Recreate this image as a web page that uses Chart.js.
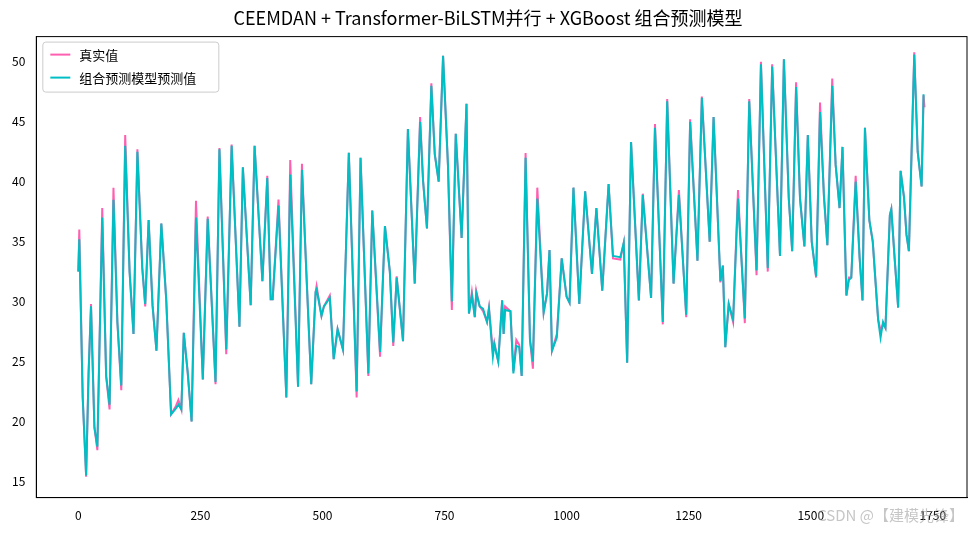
<!DOCTYPE html>
<html><head><meta charset="utf-8">
<script src="https://cdn.jsdelivr.net/npm/chart.js@4"></script>
<style>body{margin:0;background:#fff}#w{position:relative;width:976px;height:533px}
#wm{position:absolute;right:12px;bottom:8px;font:15px "Noto Sans CJK SC";color:rgba(160,160,160,0.6)}</style>
</head><body><div id="w"><canvas id="c" width="976" height="533"></canvas><div id="wm">CSDN @【建模先锋】</div></div>
<script>
const xs=[0,2,9,16,21,26,33,39,49,57,64,72,80,88,96,105,113,121,131,137,144,152,160,170,180,190,200,205,211,216,224,232,241,255,265,281,289,303,314,330,337,353,361,377,387,394,398,410,426,434,450,458,468,477,486,488,498,503,515,523,531,542,554,570,578,594,602,618,628,638,645,652,665,675,689,700,706,714,723,730,738,747,757,765,773,785,795,800,806,812,815,822,829,837,841,849,852,860,868,871,874,885,891,897,903,908,916,925,931,940,953,960,965,970,980,990,1000,1006,1014,1026,1038,1052,1061,1073,1086,1095,1110,1117,1124,1132,1148,1156,1173,1181,1197,1206,1219,1230,1245,1253,1268,1277,1293,1301,1315,1320,1325,1332,1341,1351,1365,1374,1389,1398,1412,1421,1437,1445,1455,1462,1470,1478,1487,1494,1502,1511,1519,1527,1534,1544,1551,1559,1565,1573,1578,1583,1592,1600,1606,1611,1620,1627,1638,1643,1648,1653,1662,1665,1672,1679,1684,1691,1696,1701,1712,1719,1727,1731,1733];
const actual=[32.5,36.0,22.0,15.4,24.0,29.8,19.5,17.6,37.8,23.8,21.0,39.5,28.3,22.6,43.9,32.5,27.3,42.7,32.8,29.6,36.8,29.7,25.9,36.5,30.2,20.6,21.3,21.8,21.0,27.4,24.1,20.0,38.4,23.5,37.1,23.1,42.8,25.6,43.1,27.9,41.2,29.7,43.0,31.7,40.5,30.2,30.2,38.5,22.0,41.8,22.9,41.5,31.5,23.1,30.8,31.3,28.8,29.6,30.5,25.2,27.7,26.0,42.4,22.0,42.0,23.8,37.6,25.4,36.3,32.5,26.3,32.1,26.7,44.4,31.5,45.4,40.1,36.1,48.2,42.3,40.0,50.5,41.4,29.3,44.0,35.3,46.5,29.0,30.8,28.7,30.9,29.6,29.2,28.3,29.5,25.8,26.6,25.0,30.1,27.3,29.6,29.2,24.2,26.8,26.4,23.8,42.4,26.8,24.4,39.5,29.1,30.7,34.3,25.9,27.3,33.6,30.4,29.9,39.5,29.8,39.2,32.3,37.8,30.9,39.8,33.6,33.5,34.9,24.9,43.3,30.1,39.0,30.3,44.8,28.1,46.9,31.5,39.3,28.7,45.2,33.4,47.1,35.0,45.4,31.6,33.0,26.2,29.8,28.3,39.3,28.2,46.9,32.2,50.0,32.5,49.8,33.8,50.2,38.6,34.2,48.3,38.6,34.6,43.9,35.0,32.0,46.6,38.8,34.7,48.6,41.4,37.8,42.9,30.5,32.0,32.0,40.5,33.7,30.1,44.5,36.8,35.0,28.5,27.6,28.1,27.8,37.2,37.7,33.5,29.5,40.9,38.7,35.6,34.2,50.8,42.5,39.6,47.2,46.2];
const predicted=[32.5,35.2,22.0,15.5,24.0,29.6,19.5,17.9,37.0,23.8,21.4,38.5,28.3,23.0,43.0,32.5,27.3,42.5,32.8,29.8,36.8,29.7,25.9,36.5,30.2,20.6,21.1,21.4,21.0,27.4,24.1,20.0,37.0,23.5,36.9,23.3,42.7,26.0,43.0,27.9,41.2,29.7,43.0,31.7,40.3,30.2,30.2,38.0,22.0,40.6,22.9,41.0,31.5,23.1,30.8,31.0,28.8,29.6,30.3,25.2,27.7,26.0,42.4,22.5,42.0,24.0,37.6,25.8,36.3,32.5,26.6,32.0,26.7,44.4,31.5,45.0,40.1,36.1,48.0,42.3,40.0,50.5,41.4,30.0,44.0,35.3,46.5,29.0,30.5,28.7,30.7,29.6,29.4,28.3,29.4,25.4,26.4,25.0,30.1,27.3,29.3,29.2,24.0,26.3,26.2,23.8,42.0,26.8,25.0,38.6,29.1,30.7,34.3,25.9,27.0,33.6,30.4,29.9,39.5,29.8,39.2,32.3,37.8,30.9,39.8,33.8,33.7,34.9,24.9,43.3,30.1,38.9,30.3,44.5,28.3,46.7,31.5,38.9,28.9,45.0,33.4,47.0,35.0,45.4,31.7,33.0,26.2,29.8,28.5,38.6,28.6,46.7,32.6,49.8,32.8,49.6,33.8,50.2,38.6,34.2,47.9,38.6,34.6,43.9,35.0,32.1,45.8,38.8,34.7,48.0,41.4,37.8,42.9,30.5,31.8,32.0,40.0,33.7,30.1,44.5,36.8,35.0,28.5,27.0,28.3,27.8,37.2,37.7,33.5,29.5,40.9,38.7,35.6,34.2,50.6,42.5,39.6,47.2,47.2];
const yTicks=[15,20,25,30,35,40,45,50];
const xTicks=[0,250,500,750,1000,1250,1500,1750];
const labels=['真实值','组合预测模型预测值'];
const colors=['#ff5fb0','#00bfc4'];
const F='"Noto Sans CJK SC", "DejaVu Sans", sans-serif';
const legendPlugin={id:'lg',afterDraw(ch){const c=ch.ctx,a=ch.chartArea;const x=a.left+6,y=a.top+5,w=176,h=50;
c.save();c.fillStyle='rgba(255,255,255,0.85)';c.strokeStyle='#ccc';c.lineWidth=1;c.beginPath();c.roundRect(x+0.5,y+0.5,w,h,3);c.fill();c.stroke();
c.font='13px '+F;c.textBaseline='middle';labels.forEach((l,i)=>{const yy=y+13+i*23;c.strokeStyle=colors[i];c.lineWidth=2;c.beginPath();c.moveTo(x+8,yy);c.lineTo(x+28,yy);c.stroke();c.fillStyle='#000';c.fillText(l,x+37,yy);});c.restore();}};
new Chart(document.getElementById('c'),{type:'line',
data:{datasets:[{label:labels[0],order:2,data:xs.map((x,i)=>({x,y:actual[i]})),borderColor:colors[0],borderWidth:2,pointRadius:0,tension:0},
{label:labels[1],order:1,data:xs.map((x,i)=>({x,y:predicted[i]})),borderColor:colors[1],borderWidth:2,pointRadius:0,tension:0}]},
options:{responsive:false,animation:false,layout:{padding:{left:9,right:9,top:7,bottom:7}},
plugins:{legend:{display:false},tooltip:{enabled:false},title:{display:true,text:'CEEMDAN + Transformer-BiLSTM并行 + XGBoost 组合预测模型',font:{family:F,size:18,weight:'normal'},color:'#000',padding:{top:0,bottom:8}}},
scales:{x:{type:'linear',min:-86,max:1820,afterBuildTicks:s=>{s.ticks=xTicks.map(v=>({value:v}))},grid:{display:false,drawTicks:true},border:{color:'#000'},ticks:{color:'#000',font:{family:F,size:12},callback:v=>String(v)}},
y:{min:13.65,max:52.1,afterBuildTicks:s=>{s.ticks=yTicks.map(v=>({value:v}))},grid:{display:false},border:{color:'#000'},ticks:{color:'#000',font:{family:F,size:12},callback:v=>String(v)}}}},
plugins:[legendPlugin,{id:'box',afterDraw(ch){const c=ch.ctx,a=ch.chartArea;c.save();c.strokeStyle='#000';c.lineWidth=1;c.strokeRect(a.left,a.top,a.right-a.left,a.bottom-a.top);c.restore();}}]});
</script></body></html>
